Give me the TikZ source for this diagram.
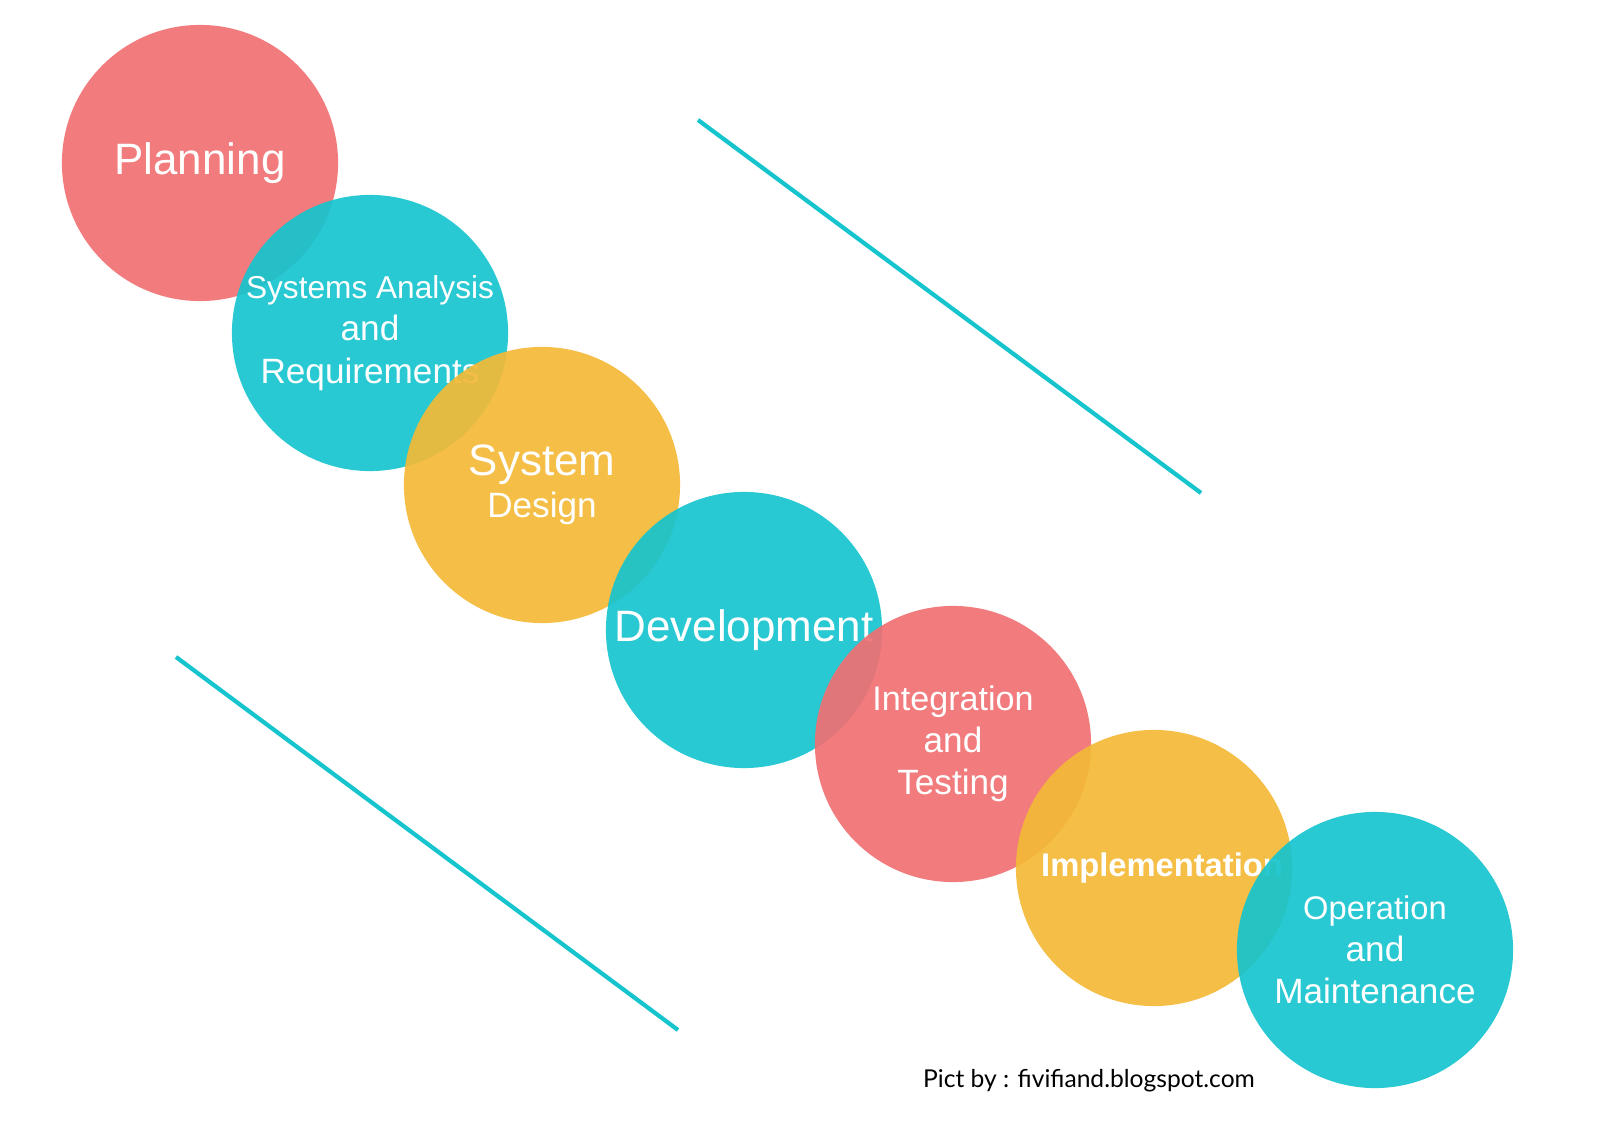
\documentclass[tikz,border=0pt]{standalone}
\usepackage{fontspec}
\setmainfont{Liberation Sans}
\newfontfamily\latofont{Lato}
\definecolor{cred}{RGB}{240,112,114}
\definecolor{cteal}{RGB}{22,196,206}
\definecolor{cyel}{RGB}{243,185,55}
\begin{document}
\begin{tikzpicture}[x=0.01cm,y=-0.01cm,
  phase/.style={circle,minimum size=2.76cm,inner sep=0pt,fill opacity=0.92,text opacity=1,text=white,align=center},
  deco/.style={draw=cteal,line width=1.2pt}]
\useasboundingbox (0,0) rectangle (1600,1131);
\node[phase,fill=cred] (p1) at (200,163) {\fontsize{12.5}{14}\selectfont Planning};
\node[phase,fill=cteal] (p2) at (370,333) {\fontsize{9}{7.2}\selectfont Systems Analysis\\and\\Requirements};
\node[phase,fill=cyel] (p3) at (542,485) {\fontsize{12.5}{14.2}\selectfont System\\Design};
\node[phase,fill=cteal] (p4) at (744,630) {\fontsize{12.5}{14}\selectfont Development};
\node[phase,fill=cred] (p5) at (953,744) {\fontsize{9.7}{11.4}\selectfont Integration\\and\\Testing};
\node[phase,fill=cyel] (p6) at (1154,868) {};
\node[text=white,font=\bfseries\fontsize{9.3}{11}\selectfont] (t6) at (1162,868) {Implementation};
\node[phase,fill=cteal] (p7) at (1375,950) {\fontsize{9.3}{10.3}\selectfont Operation\\and\\Maintenance};
\coordinate (a1) at (698,120); \coordinate (a2) at (1201,493);
\coordinate (b1) at (176,657); \coordinate (b2) at (678,1030);
\draw[deco] (a1) -- (a2);
\draw[deco] (b1) -- (b2);
\node[font=\latofont\fontsize{7}{8}\selectfont] (cr) at (1089,1081) {Pict by : fivifiand.blogspot.com};
\end{tikzpicture}
\end{document}
